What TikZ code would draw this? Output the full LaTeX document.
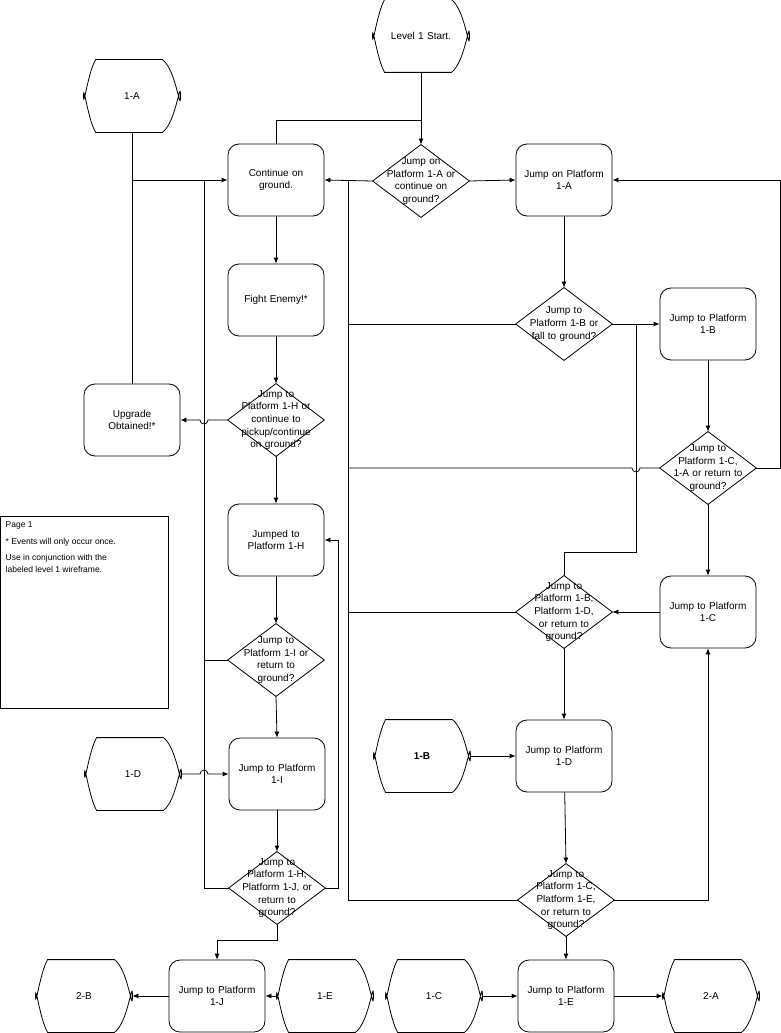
\documentclass[tikz,border=0pt]{standalone}
\usepackage{fontspec}
\setmainfont{Liberation Sans}
\usetikzlibrary{arrows.meta}
\begin{document}
\begin{tikzpicture}[x=1pt,y=-1pt,line width=0.8pt,
  every node/.style={font=\fontsize{10}{12.7}\selectfont,align=center},
  box/.style={draw,rounded corners=11pt,minimum width=96pt,minimum height=72pt,inner sep=1pt,text width=90pt},
  hold/.style={minimum width=96pt,minimum height=72pt,inner sep=0pt,text width=92pt},
  arr/.style={-{Latex[length=6pt,width=5pt]}}]
\useasboundingbox (0,0) rectangle (781,1033);
\newcommand\offp[4]{%
  \node[hold] (#1) at (#2,#3) {#4};
  \draw ([xshift=12pt]#1.north west) .. controls ([xshift=4pt,yshift=-14pt]#1.north west) and ([yshift=-14pt]#1.west) .. (#1.west)
        .. controls ([yshift=14pt]#1.west) and ([xshift=4pt,yshift=14pt]#1.south west) .. ([xshift=12pt]#1.south west)
        -- ([xshift=-18pt]#1.south east) .. controls ([xshift=-4pt,yshift=10pt]#1.south east) and ([yshift=20pt]#1.east) .. (#1.east)
        .. controls ([yshift=-20pt]#1.east) and ([xshift=-4pt,yshift=-10pt]#1.north east) .. ([xshift=-18pt]#1.north east) -- cycle;}
\newcommand\dia[4]{%
  \node[hold] (#1) at (#2,#3) {#4};
  \draw (#1.north) -- (#1.east) -- (#1.south) -- (#1.west) -- cycle;}
% nodes
\offp{start}{421}{36}{Level 1 Start.}
\offp{oA}{132}{96}{1-A}
\node[box] (cont) at (276,180) {Continue on\\ground.};
\dia{d1}{421}{181}{Jump on\\Platform 1-A or\\continue on\\ground?}
\node[box] (p1a) at (564,180) {Jump on Platform\\1-A};
\node[box] (fight) at (276,300) {Fight Enemy!*};
\dia{d2}{564}{324}{Jump to\\Platform 1-B or\\fall to ground?}
\node[box] (p1b) at (708,324) {Jump to Platform\\1-B};
\dia{d3}{276}{420}{Jump to\\Platform 1-H or\\continue to\\pickup/continue\\on ground?}
\node[box] (up) at (132,420) {Upgrade\\Obtained!*};
\dia{d4}{708}{468}{Jump to\\Platform 1-C,\\1-A or return to\\ground?}
\node[draw,minimum width=168pt,minimum height=192pt,inner sep=0pt] (note) at (84,612) {};
\node[anchor=north west,align=left,font=\fontsize{8.5}{11.5}\selectfont] (notetxt) at (2,518) {Page 1\\[5pt]* Events will only occur once.\\[5pt]Use in conjunction with the\\labeled level 1 wireframe.};
\node[box] (p1h) at (276,540) {Jumped to\\Platform 1-H};
\node[box] (p1c) at (708,612) {Jump to Platform\\1-C};
\dia{d5}{564}{612}{Jump to\\Platform 1-B,\\Platform 1-D,\\or return to\\ground?}
\dia{d6}{276}{660}{Jump to\\Platform 1-I or\\return to\\ground?}
\offp{oB}{422}{756}{\textbf{1-B}}
\node[box] (p1d) at (564,756) {Jump to Platform\\1-D};
\offp{oD}{133}{774}{1-D}
\node[box] (p1i) at (277,774) {Jump to Platform\\1-I};
\dia{d7}{277}{888}{Jump to\\Platform 1-H,\\Platform 1-J, or\\return to\\ground?}
\dia{d8}{566}{900}{Jump to\\Platform 1-C,\\Platform 1-E,\\or return to\\ground?}
\offp{o2B}{84}{996}{2-B}
\node[box] (p1j) at (217,996) {Jump to Platform\\1-J};
\offp{o1E}{325}{996}{1-E}
\offp{o1C}{434}{996}{1-C}
\node[box] (p1e) at (566,996) {Jump to Platform\\1-E};
\offp{o2A}{711}{996}{2-A}
\coordinate (vl) at (204,180);
\coordinate (vr) at (348,180);
% connectors
\draw[arr] (start.south) -- (d1.north);
\draw (421,120) -| (cont.north);
\draw (oA.south) -- (up.north);
\draw[arr] (132,180) -- (cont.west);
\draw[arr] (d1.west) -- (cont.east);
\draw[arr] (d1.east) -- (p1a.west);
\draw[arr] (cont) -- (fight);
\draw[arr] (fight) -- (d3.north);
\draw[arr] (d3.west) -- (208,420) arc (0:180:4) -- (up.east);
\draw (vl) -- (204,888);
\draw (d6.west) -- (204,660);
\draw (d7.west) -- (204,888);
\draw[arr] (oD.east) -- (200,774) arc (180:360:4) -- (p1i.west);
\draw[arr] (d3.south) -- (p1h.north);
\draw[arr] (p1h) -- (d6.north);
\draw[arr] (d6.south) -- (p1i.north);
\draw[arr] (p1i) -- (d7.north);
\draw[arr] (d7.east) -- (338,888) |- (p1h.east);
\draw[arr] (d7.south) -- (277,940) -| (p1j.north);
\draw[arr] (p1j) -- (o2B.east);
\draw[arr] (o1E.west) -- (p1j);
\draw (vr) -- (348,900);
\draw (d2.west) -- (348,324);
\draw (d4.west) -- (640,468) arc (0:180:4) -- (348,468);
\draw (d5.west) -- (348,612);
\draw (d8.west) -- (348,900);
\draw[arr] (p1a) -- (d2.north);
\draw[arr] (d2.east) -- (p1b.west);
\draw[arr] (p1b) -- (d4.north);
\draw[arr] (d4.east) -- (780,468) |- (p1a.east);
\draw[arr] (d4.south) -- (p1c.north);
\draw[arr] (p1c.west) -- (d5.east);
\draw (d5.north) -- (564,552) -| (636,324);
\draw[arr] (d5.south) -- (p1d.north);
\draw[arr] (oB.east) -- (p1d.west);
\draw[arr] (p1d) -- (d8.north);
\draw[arr] (d8.east) -| (p1c.south);
\draw[arr] (d8.south) -- (p1e.north);
\draw[arr] (o1C.east) -- (p1e.west);
\draw[arr] (p1e) -- (o2A.west);
\end{tikzpicture}
\end{document}
